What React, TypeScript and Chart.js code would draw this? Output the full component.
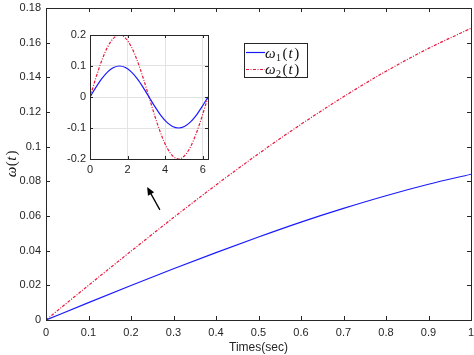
import React, { useEffect, useRef } from "react";
import { Chart, registerables } from "chart.js";
Chart.register(...registerables);

// Main plot data
const timeMain = [0, 0.1, 0.2, 0.3, 0.4, 0.5, 0.6, 0.7, 0.8, 0.9, 1.0];
const omega1Main = [0, 0.01, 0.0199, 0.0296, 0.0389, 0.0479, 0.0565, 0.0644, 0.0717, 0.0783, 0.0841];
const omega2Main = [0, 0.02, 0.0397, 0.0591, 0.0779, 0.0959, 0.1129, 0.1288, 0.1435, 0.1567, 0.1683];

// Inset data
const timeInset = [0, 0.314, 0.628, 0.942, 1.257, 1.571, 1.885, 2.199, 2.513, 2.827, 3.142, 3.456, 3.77, 4.084, 4.398, 4.712, 5.027, 5.341, 5.655, 5.969, 6.283];
const omega1Inset = [0, 0.031, 0.059, 0.081, 0.095, 0.1, 0.095, 0.081, 0.059, 0.031, 0, -0.031, -0.059, -0.081, -0.095, -0.1, -0.095, -0.081, -0.059, -0.031, 0];
const omega2Inset = [0, 0.062, 0.118, 0.162, 0.19, 0.2, 0.19, 0.162, 0.118, 0.062, 0, -0.062, -0.118, -0.162, -0.19, -0.2, -0.19, -0.162, -0.118, -0.062, 0];

// Arrow annotation in data coordinates [t, omega]
const arrowTail = [0.268, 0.0635];
const arrowHead = [0.238, 0.0767];

const AXIS_COLOR = "#262626";
const BLUE = "#1a1aff";
const RED = "#e8173c";
const DASH = [3, 1.5, 1, 1.5];
const SANS = '"Liberation Sans", Arial, sans-serif';
const SERIF = '"Liberation Serif", "DejaVu Serif", serif';

const fmt = (v: number) => String(parseFloat(Number(v).toFixed(3)));

function boxPlugin(len: number) {
  return {
    id: "boxTicks",
    afterDraw(chart: any) {
      const { ctx, chartArea: a, scales } = chart;
      ctx.save();
      ctx.strokeStyle = AXIS_COLOR;
      ctx.lineWidth = 1;
      ctx.beginPath();
      const sx = scales.x;
      sx.ticks.forEach((_t: any, i: number) => {
        const p = Math.round(sx.getPixelForTick(i)) + 0.5;
        ctx.moveTo(p, a.bottom);
        ctx.lineTo(p, a.bottom - len);
        ctx.moveTo(p, a.top);
        ctx.lineTo(p, a.top + len);
      });
      const sy = scales.y;
      sy.ticks.forEach((_t: any, i: number) => {
        const p = Math.round(sy.getPixelForTick(i)) + 0.5;
        ctx.moveTo(a.left, p);
        ctx.lineTo(a.left + len, p);
        ctx.moveTo(a.right, p);
        ctx.lineTo(a.right - len, p);
      });
      ctx.stroke();
      ctx.strokeRect(Math.round(a.left) + 0.5, Math.round(a.top) + 0.5, Math.round(a.right - a.left), Math.round(a.bottom - a.top));
      ctx.restore();
    },
  };
}

function drawOmegaLabel(ctx: CanvasRenderingContext2D, x: number, y: number, sub: string) {
  ctx.textBaseline = "alphabetic";
  ctx.textAlign = "left";
  ctx.fillStyle = "#111";
  ctx.font = `italic 15px ${SERIF}`;
  ctx.fillText("ω", x, y);
  let cx = x + ctx.measureText("ω").width + 0.5;
  ctx.font = `10px ${SERIF}`;
  ctx.fillText(sub, cx, y + 3);
  cx += ctx.measureText(sub).width + 1.5;
  ctx.font = `15px ${SERIF}`;
  ctx.fillText("(", cx, y);
  cx += ctx.measureText("(").width + 1;
  ctx.font = `italic 15px ${SERIF}`;
  ctx.fillText("t", cx, y);
  cx += ctx.measureText("t").width + 1.5;
  ctx.font = `15px ${SERIF}`;
  ctx.fillText(")", cx, y);
}

const decorPlugin = {
  id: "decor",
  afterDraw(chart: any) {
    const { ctx, chartArea: a, scales } = chart;
    ctx.save();
    // x title
    ctx.fillStyle = AXIS_COLOR;
    ctx.font = `12px ${SANS}`;
    ctx.textAlign = "center";
    ctx.textBaseline = "middle";
    ctx.fillText("Times(sec)", (a.left + a.right) / 2, 348);
    // y title
    ctx.save();
    ctx.translate(12, (a.top + a.bottom) / 2);
    ctx.rotate(-Math.PI / 2);
    ctx.textBaseline = "middle";
    ctx.fillStyle = "#111";
    const fs = 15;
    ctx.font = `italic ${fs}px ${SERIF}`;
    const w1 = ctx.measureText("ω").width + 0.5;
    ctx.font = `${fs}px ${SERIF}`;
    const w2 = ctx.measureText("(").width + 0.5;
    ctx.font = `italic ${fs}px ${SERIF}`;
    const w3 = ctx.measureText("t").width + 1;
    ctx.font = `${fs}px ${SERIF}`;
    const w4 = ctx.measureText(")").width;
    let cx = -(w1 + w2 + w3 + w4) / 2;
    ctx.textAlign = "left";
    ctx.font = `italic ${fs}px ${SERIF}`;
    ctx.fillText("ω", cx, 0); cx += w1;
    ctx.font = `${fs}px ${SERIF}`;
    ctx.fillText("(", cx, 0); cx += w2;
    ctx.font = `italic ${fs}px ${SERIF}`;
    ctx.fillText("t", cx, 0); cx += w3;
    ctx.font = `${fs}px ${SERIF}`;
    ctx.fillText(")", cx, 0);
    ctx.restore();

    // legend
    const lx = 244, ly = 43, lw = 63, lh = 34;
    ctx.fillStyle = "#fff";
    ctx.fillRect(lx, ly, lw, lh);
    ctx.strokeStyle = AXIS_COLOR;
    ctx.lineWidth = 1;
    ctx.strokeRect(lx + 0.5, ly + 0.5, lw, lh);
    ctx.strokeStyle = BLUE;
    ctx.lineWidth = 1.2;
    ctx.beginPath();
    ctx.moveTo(lx + 2, ly + 9.5);
    ctx.lineTo(lx + 21, ly + 9.5);
    ctx.stroke();
    ctx.strokeStyle = RED;
    ctx.setLineDash(DASH);
    ctx.beginPath();
    ctx.moveTo(lx + 2, ly + 26.5);
    ctx.lineTo(lx + 21, ly + 26.5);
    ctx.stroke();
    ctx.setLineDash([]);
    drawOmegaLabel(ctx, lx + 21, ly + 15, "1");
    drawOmegaLabel(ctx, lx + 21, ly + 31, "2");

    // arrow
    const x1 = scales.x.getPixelForValue(arrowTail[0]);
    const y1 = scales.y.getPixelForValue(arrowTail[1]);
    const x2 = scales.x.getPixelForValue(arrowHead[0]);
    const y2 = scales.y.getPixelForValue(arrowHead[1]);
    const ang = Math.atan2(y2 - y1, x2 - x1);
    ctx.strokeStyle = "#000";
    ctx.fillStyle = "#000";
    ctx.lineWidth = 1.3;
    ctx.beginPath();
    ctx.moveTo(x1, y1);
    ctx.lineTo(x2 - 5 * Math.cos(ang), y2 - 5 * Math.sin(ang));
    ctx.stroke();
    const hl = 8, hw = 3.5;
    ctx.beginPath();
    ctx.moveTo(x2, y2);
    ctx.lineTo(x2 - hl * Math.cos(ang) + hw * Math.sin(ang), y2 - hl * Math.sin(ang) - hw * Math.cos(ang));
    ctx.lineTo(x2 - hl * Math.cos(ang) - hw * Math.sin(ang), y2 - hl * Math.sin(ang) + hw * Math.cos(ang));
    ctx.closePath();
    ctx.fill();
    ctx.restore();
  },
};

const zeroPad = (s: any) => {
  s.paddingLeft = 0;
  s.paddingRight = 0;
  s.paddingTop = 0;
  s.paddingBottom = 0;
};

function MainChart() {
  const ref = useRef<HTMLCanvasElement>(null);
  useEffect(() => {
    const chart = new Chart(ref.current!, {
      type: "line",
      data: {
        datasets: [
          {
            label: "ω1(t)",
            data: timeMain.map((t, i) => ({ x: t, y: omega1Main[i] })),
            borderColor: BLUE,
            borderWidth: 1.2,
            pointRadius: 0,
            cubicInterpolationMode: "monotone",
          },
          {
            label: "ω2(t)",
            data: timeMain.map((t, i) => ({ x: t, y: omega2Main[i] })),
            borderColor: RED,
            borderWidth: 1.2,
            borderDash: DASH,
            pointRadius: 0,
            cubicInterpolationMode: "monotone",
          },
        ],
      },
      options: {
        animation: false,
        responsive: false,
        events: [],
        layout: { padding: { top: 8, right: 3, left: 0, bottom: 0 } },
        plugins: { legend: { display: false }, tooltip: { enabled: false } },
        scales: {
          x: {
            type: "linear",
            min: 0,
            max: 1,
            grid: { display: false, drawTicks: false },
            border: { display: false },
            ticks: { stepSize: 0.1, padding: 6, color: AXIS_COLOR, font: { family: SANS, size: 11 }, callback: (v: any) => fmt(v), maxRotation: 0 },
            afterFit: (s: any) => { s.height = 35; zeroPad(s); },
          },
          y: {
            type: "linear",
            min: 0,
            max: 0.18,
            grid: { display: false, drawTicks: false },
            border: { display: false },
            ticks: { stepSize: 0.02, padding: 5, color: AXIS_COLOR, font: { family: SANS, size: 11 }, callback: (v: any) => fmt(v) },
            afterFit: (s: any) => { s.width = 46; zeroPad(s); },
          },
        },
      },
      plugins: [boxPlugin(4), decorPlugin],
    } as any);
    return () => chart.destroy();
  }, []);
  return <canvas ref={ref} width={474} height={355} style={{ position: "absolute", left: 0, top: 0 }} />;
}

function InsetChart() {
  const ref = useRef<HTMLCanvasElement>(null);
  useEffect(() => {
    const chart = new Chart(ref.current!, {
      type: "line",
      data: {
        datasets: [
          {
            data: timeInset.map((t, i) => ({ x: t, y: omega1Inset[i] })),
            borderColor: BLUE,
            borderWidth: 1.2,
            pointRadius: 0,
            cubicInterpolationMode: "monotone",
          },
          {
            data: timeInset.map((t, i) => ({ x: t, y: omega2Inset[i] })),
            borderColor: RED,
            borderWidth: 1.2,
            borderDash: DASH,
            pointRadius: 0,
            cubicInterpolationMode: "monotone",
          },
        ],
      },
      options: {
        animation: false,
        responsive: false,
        events: [],
        layout: { padding: { top: 7, right: 4, left: 0, bottom: 0 } },
        plugins: { legend: { display: false }, tooltip: { enabled: false } },
        scales: {
          x: {
            type: "linear",
            min: 0,
            max: 6.283,
            grid: { color: "#e3e3e3", drawTicks: false },
            border: { display: false },
            ticks: { stepSize: 2, includeBounds: false, padding: 4, color: AXIS_COLOR, font: { family: SANS, size: 11 }, callback: (v: any) => fmt(v), maxRotation: 0 },
            afterFit: (s: any) => { s.height = 21; zeroPad(s); },
          },
          y: {
            type: "linear",
            min: -0.2,
            max: 0.2,
            grid: { color: "#e3e3e3", drawTicks: false },
            border: { display: false },
            ticks: { stepSize: 0.1, padding: 4, color: AXIS_COLOR, font: { family: SANS, size: 11 }, callback: (v: any) => fmt(v) },
            afterFit: (s: any) => { s.width = 30; zeroPad(s); },
          },
        },
      },
      plugins: [boxPlugin(3)],
    } as any);
    return () => chart.destroy();
  }, []);
  return <canvas ref={ref} width={152} height={152} style={{ position: "absolute", left: 60, top: 28 }} />;
}

export default function App() {
  return (
    <div style={{ position: "fixed", left: 0, top: 0, width: 474, height: 355, background: "#fff" }}>
      <MainChart />
      <InsetChart />
    </div>
  );
}
